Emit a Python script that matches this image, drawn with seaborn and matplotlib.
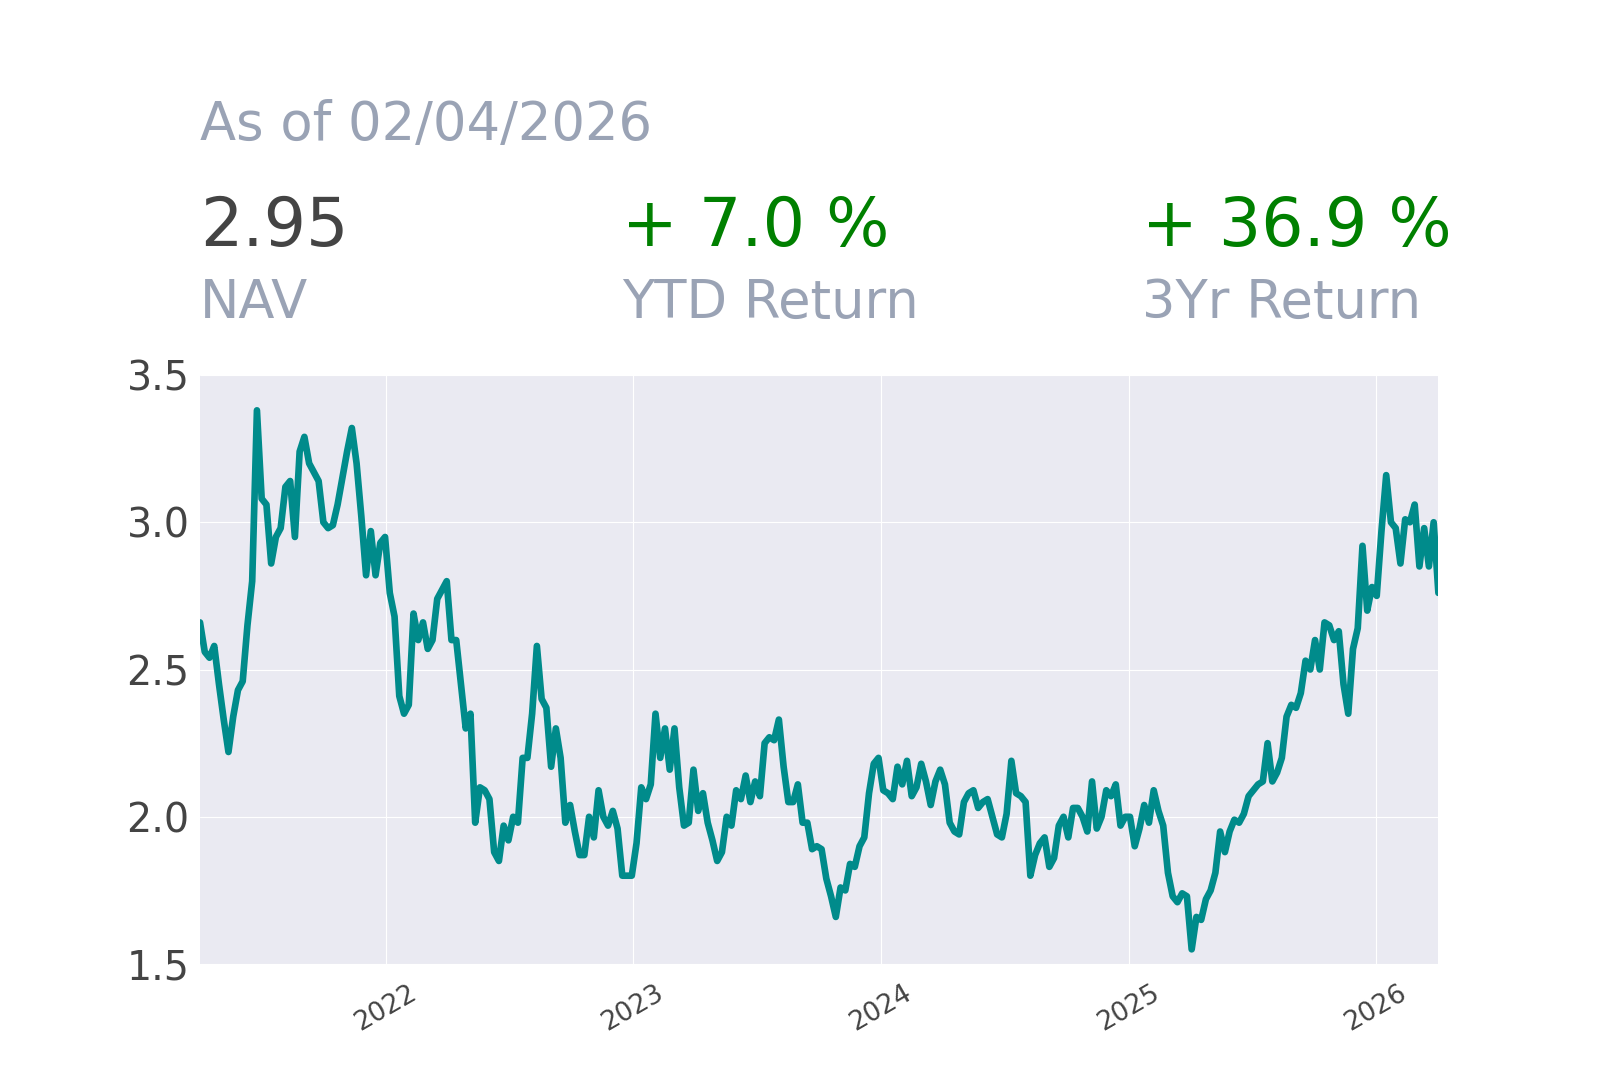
import numpy as np
import pandas as pd
import matplotlib
matplotlib.use("Agg")
import matplotlib.pyplot as plt
import matplotlib.dates as mdates
import seaborn as sns

# ---- data (weekly NAV) ----
start_date = "2021-04-02"
nav_a = [2.66, 2.56, 2.54, 2.58, 2.45, 2.33, 2.22, 2.34, 2.43, 2.46,
         2.65, 2.80, 3.38, 3.08, 3.06, 2.86, 2.95, 2.98, 3.12, 3.14,
         2.95, 3.24, 3.29, 3.20, 3.17, 3.14, 3.00, 2.98, 2.99, 3.06,
         3.15, 3.24, 3.32, 3.20, 3.02, 2.82, 2.97, 2.82, 2.93, 2.95,
         2.76, 2.68, 2.41, 2.35, 2.38, 2.69]
nav_b = [2.60, 2.66, 2.57, 2.60, 2.74, 2.77, 2.80, 2.60, 2.60, 2.45,
         2.30, 2.35, 1.98, 2.10, 2.09, 2.06, 1.88, 1.85, 1.97, 1.92,
         2.00, 1.98, 2.20, 2.20, 2.35, 2.58, 2.40, 2.37, 2.17, 2.30,
         2.20, 1.98, 2.04, 1.95, 1.87, 1.87, 2.00, 1.93, 2.09, 2.00,
         1.97, 2.02, 1.96, 1.80]
nav_c = [1.80, 1.80, 1.91, 2.10, 2.06, 2.11, 2.35, 2.20, 2.30, 2.16,
         2.30, 2.10, 1.97, 1.98, 2.16, 2.02, 2.08, 1.98, 1.92, 1.85,
         1.88, 2.00, 1.97, 2.09, 2.06, 2.14, 2.05, 2.12, 2.07, 2.25,
         2.27, 2.26, 2.33, 2.17, 2.05, 2.05, 2.11, 1.98, 1.98, 1.89,
         1.90, 1.89, 1.79]
nav_d = [1.73, 1.66, 1.76, 1.75, 1.84, 1.83, 1.90, 1.93, 2.08, 2.18,
         2.20, 2.09, 2.08, 2.06, 2.17, 2.11, 2.19, 2.07, 2.10, 2.18,
         2.12, 2.04, 2.12, 2.16, 2.11, 1.98, 1.95, 1.94, 2.05, 2.08,
         2.09, 2.03, 2.05, 2.06, 2.00, 1.94, 1.93, 2.01, 2.19, 2.08,
         2.07, 2.05, 1.80, 1.87]
nav_e = [1.91, 1.93, 1.83, 1.86, 1.97, 2.00, 1.93, 2.03, 2.03, 2.00,
         1.95, 2.12, 1.96, 2.00, 2.09, 2.07, 2.11, 1.97, 2.00, 2.00,
         1.90, 1.96, 2.04, 1.98, 2.09, 2.02, 1.97, 1.81, 1.73, 1.71,
         1.74, 1.73, 1.55, 1.66, 1.65, 1.72, 1.75, 1.81, 1.95, 1.88,
         1.95, 1.99, 1.98, 2.01]
nav_f = [2.07, 2.09, 2.11, 2.12, 2.25, 2.12, 2.15, 2.20, 2.34, 2.38,
         2.37, 2.42, 2.53, 2.50, 2.60, 2.50, 2.66, 2.65, 2.60, 2.63,
         2.45, 2.35, 2.57, 2.64, 2.92, 2.70, 2.78, 2.75, 2.97, 3.16,
         3.00, 2.98, 2.86, 3.01, 3.00, 3.06, 2.85, 2.98, 2.85, 3.00,
         2.76]

yticks = [1.5, 2.0, 2.5, 3.0, 3.5]
ytick_labels = ["1.5", "2.0", "2.5", "3.0", "3.5"]

as_of_text = "As of 02/04/2026"
stat_values = ["2.95", "+ 7.0 %", "+ 36.9 %"]
stat_labels = ["NAV", "YTD Return", "3Yr Return"]
stat_colors = ["#444444", "#008000", "#008000"]

nav = nav_a + nav_b + nav_c + nav_d + nav_e + nav_f
dates = pd.date_range(start_date, periods=len(nav), freq="7D")
df = pd.DataFrame({"date": dates, "nav": nav})

# ---- styling ----
sns.set_style("darkgrid", {"axes.facecolor": "#EAEAF2", "grid.color": "white"})
plt.rcParams["font.family"] = ["DejaVu Sans"]

fig = plt.figure(figsize=(16, 10.72), dpi=100)
ax = fig.add_axes([0.125, 0.1007, 0.774, 0.5495])

sns.lineplot(data=df, x="date", y="nav", ax=ax, color="#008B8B", linewidth=4.8,
             solid_joinstyle="round", solid_capstyle="round")

ax.set_xlim(df["date"].iloc[0], df["date"].iloc[-1])
ax.set_ylim(1.5, 3.5)
ax.set_yticks(yticks)
ax.set_yticklabels(ytick_labels, fontsize=28.5, color="#444444")
ax.xaxis.set_major_locator(mdates.YearLocator())
ax.xaxis.set_major_formatter(mdates.DateFormatter("%Y"))
for lab in ax.get_xticklabels():
    lab.set_rotation(30)
    lab.set_fontsize(19)
    lab.set_color("#444444")
ax.tick_params(axis="y", pad=4)
ax.tick_params(axis="x", pad=8)
ax.set_xlabel("")
ax.set_ylabel("")
for s in ax.spines.values():
    s.set_visible(False)

gray = "#9AA3B5"
fig.text(0.125, 1 - 140 / 1072, as_of_text, fontsize=38, color=gray, va="baseline", ha="left")
col_x = [0.125, 0.389, 0.714]
for x, v, c, l in zip(col_x, stat_values, stat_colors, stat_labels):
    fig.text(x, 1 - 246 / 1072, v, fontsize=48, color=c, va="baseline", ha="left")
    fig.text(x, 1 - 318 / 1072, l, fontsize=38, color=gray, va="baseline", ha="left")

fig.savefig("out.png", dpi=100)
